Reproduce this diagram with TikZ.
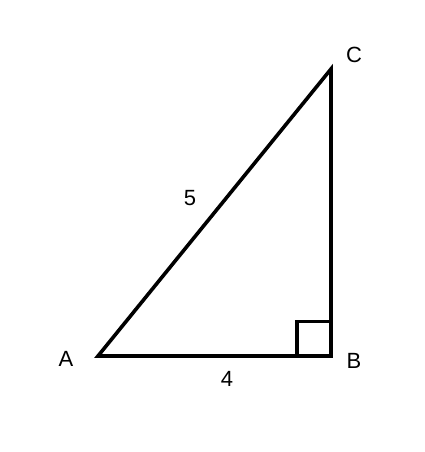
\documentclass[tikz,border=0pt]{standalone}
\usepackage{fontspec}
\setmainfont{Liberation Sans}
\begin{document}
\begin{tikzpicture}[x=1pt,y=-1pt,
  edge/.style={line width=3.6pt,line join=miter},
  lbl/.style={font=\fontsize{22}{26}\selectfont,inner sep=0pt}]
\useasboundingbox (0,0) rectangle (424,452);
\coordinate (A) at (98,356);
\coordinate (B) at (331,356);
\coordinate (C) at (331,69);
\coordinate (S1) at (297,356);
\coordinate (S2) at (297,321.5);
\coordinate (S3) at (331,321.5);
\draw[edge] (A) -- (B) -- (C) -- cycle;
\draw[edge] (S1) -- (S2) -- (S3);
\node[lbl] (la) at (66,359) {A};
\node[lbl] (lb) at (354,361) {B};
\node[lbl] (lc) at (354,55) {C};
\node[lbl] (l5) at (190,198) {5};
\node[lbl] (l4) at (227,379) {4};
\end{tikzpicture}
\end{document}
